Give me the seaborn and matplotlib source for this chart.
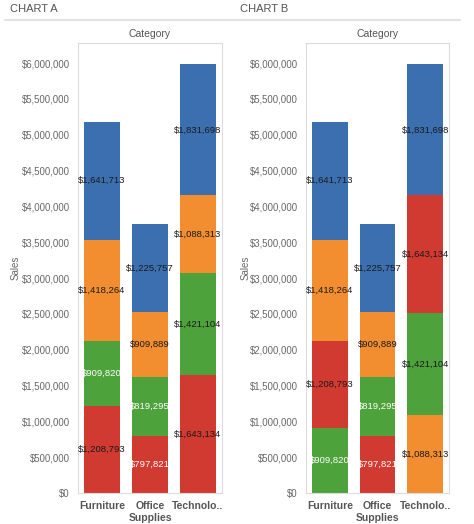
#Import dependencies
import numpy as np
import pandas as pd
import matplotlib
matplotlib.use("Agg")
import matplotlib.pyplot as plt
from matplotlib.ticker import FuncFormatter, MultipleLocator
from matplotlib.lines import Line2D
import seaborn as sns

# Sales by category, one list per colour group
categories = ["Furniture", "Office Supplies", "Technology"]
tick_labels = ["Furniture", "Office\nSupplies", "Technolo.."]
blue_sales = [1641713, 1225757, 1831698]
orange_sales = [1418264, 909889, 1088313]
green_sales = [909820, 819295, 1421104]
red_sales = [1208793, 797821, 1643134]

colors = {"blue": "#3b6fb0", "orange": "#f28e2f", "green": "#4ea23b", "red": "#d03a30"}

Sales = pd.DataFrame({"Category": categories,
                      "blue": blue_sales, "orange": orange_sales,
                      "green": green_sales, "red": red_sales})

sns.set_style("white")
plt.rcParams["font.family"] = ["Liberation Sans", "DejaVu Sans"]

fig = plt.figure(figsize=(4.74, 5.24), dpi=100)

# header
fig.text(10 / 474, 1 - 9 / 524, "CHART A", fontsize=8, color="#555555", va="center")
fig.text(240 / 474, 1 - 9 / 524, "CHART B", fontsize=8, color="#555555", va="center")
fig.add_artist(Line2D([5 / 474, 460 / 474], [1 - 20 / 524, 1 - 20 / 524],
                      color="#e2e2e2", lw=1.5))


def draw_panel(ax, stack_orders, label_x):
    # stack_orders: for each bar, the colour groups from bottom to top
    n = len(categories)
    layers = len(stack_orders[0])
    cum = np.zeros((n, layers))
    seg_colors = [[None] * layers for _ in range(n)]
    for i in range(n):
        total = 0
        for j, key in enumerate(stack_orders[i]):
            total += Sales.loc[i, key]
            cum[i, j] = total
            seg_colors[i][j] = colors[key]
    # draw tallest cumulative first, then overlay the lower ones
    for j in range(layers - 1, -1, -1):
        sns.barplot(x=categories, y=cum[:, j], hue=categories,
                    palette=[seg_colors[i][j] for i in range(n)],
                    width=0.75, saturation=1, legend=False, linewidth=0, ax=ax)
    # labels
    for i in range(n):
        bottom = 0
        for j, key in enumerate(stack_orders[i]):
            val = Sales.loc[i, key]
            txt_col = "white" if (key in ("green", "red") and val < 1000000) else "#1a1a1a"
            ax.text(i, bottom + val / 2, f"${val:,.0f}", ha="center", va="center",
                    fontsize=6.8, color=txt_col, clip_on=False)
            bottom += val

    ax.set_ylim(0, 6280000)
    ax.set_xlim(-0.5, 2.5)
    ax.yaxis.set_major_locator(MultipleLocator(500000))
    ax.yaxis.set_major_formatter(FuncFormatter(lambda v, p: f"${v:,.0f}"))
    ax.set_xticks(range(n))
    ax.set_xticklabels(tick_labels, fontsize=7.5, color="#555555", fontweight="bold")
    ax.set_xticks([-0.5, 0.5, 1.5, 2.5], minor=True)
    ax.tick_params(axis="x", which="major", length=0, pad=6)
    ax.tick_params(axis="x", which="minor", length=4, color="#d0d0d0", width=0.8)
    ax.tick_params(axis="y", which="major", length=4, color="#d0d0d0", width=0.8,
                   labelsize=6.9, labelcolor="#666666", pad=2)
    ax.set_xlabel("")
    ax.set_ylabel("Sales", fontsize=7, color="#666666")
    ax.yaxis.set_label_coords(label_x, 0.5)
    ax.set_title("Category", fontsize=7.5, color="#555555", pad=4)
    for s in ax.spines.values():
        s.set_color("#dcdcdc")
        s.set_linewidth(0.8)
    ax.grid(False)


axA = fig.add_axes([78 / 474, 1 - 493 / 524, 144 / 474, 450 / 524])
axB = fig.add_axes([306 / 474, 1 - 493 / 524, 143 / 474, 450 / 524])

order_a = [["red", "green", "orange", "blue"]] * 3
# chart B: smallest segment at the bottom of every bar
order_b = [sorted(["blue", "orange", "green", "red"], key=lambda k: Sales.loc[i, k])
           for i in range(3)]

draw_panel(axA, order_a, -0.40)
draw_panel(axB, order_b, -0.39)

plt.savefig("out.png", dpi=100)
